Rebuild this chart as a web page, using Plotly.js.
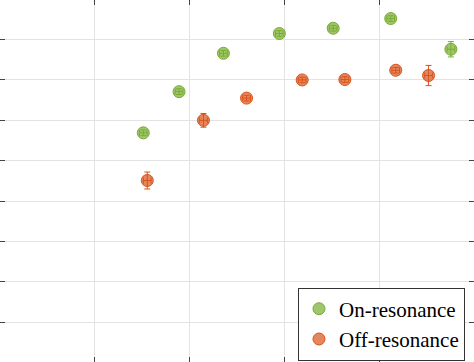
<!DOCTYPE html>
<html>
<head>
<meta charset="utf-8">
<script src="https://cdn.plot.ly/plotly-3.0.1.min.js"></script>
<style>html,body{margin:0;padding:0;background:#fff;}#chart{width:474px;height:362px;}</style>
</head>
<body>
<div id="chart"></div>
<script>
// On-resonance series
const onX = [1.512, 1.888, 2.355, 2.943, 3.509, 4.114, 4.747];
const onY = [5.69, 6.71, 7.66, 8.15, 8.28, 8.52, 7.76];
const onYErr = [0.07, 0.07, 0.07, 0.07, 0.07, 0.07, 0.19];
const onXErr = [0.04, 0.04, 0.04, 0.04, 0.04, 0.04, 0.04];
// Off-resonance series
const offX = [1.554, 2.145, 2.598, 3.183, 3.632, 4.167, 4.512];
const offY = [4.51, 6.00, 6.55, 7.00, 7.01, 7.24, 7.11];
const offYErr = [0.21, 0.17, 0.07, 0.07, 0.07, 0.07, 0.25];
const offXErr = [0.04, 0.04, 0.04, 0.04, 0.04, 0.04, 0.04];

const green = '#77AC30', orange = '#D95319';

function series(name, x, y, ex, ey, col, fill) {
  return {
    type: 'scatter', mode: 'markers', name: name, x: x, y: y,
    marker: {size: 12, color: fill, line: {color: col, width: 1}},
    error_y: {type: 'data', array: ey, visible: true, color: col, thickness: 1, width: 3},
    error_x: {type: 'data', array: ex, visible: true, color: col, thickness: 1, width: 3}
  };
}

const data = [
  series('On-resonance', onX, onY, onXErr, onYErr, green, 'rgba(119,172,48,0.7)'),
  series('Off-resonance', offX, offY, offXErr, offYErr, orange, 'rgba(217,83,25,0.7)')
];

const axisCommon = {
  showgrid: true, gridcolor: '#e3e3e3', gridwidth: 1,
  zeroline: false, showline: false, showticklabels: false,
  ticks: 'inside', ticklen: 5, tickwidth: 1, tickcolor: '#444', mirror: 'ticks', dtick: 1
};

const layout = {
  width: 474, height: 362,
  margin: {l: 0, r: 0, t: 0, b: 0, autoexpand: false},
  paper_bgcolor: '#fff', plot_bgcolor: '#fff',
  showlegend: true,
  xaxis: Object.assign({}, axisCommon, {range: [0.005, 4.99]}),
  yaxis: Object.assign({}, axisCommon, {range: [0.015, 8.98]}),
  legend: {
    x: 0.981, y: 0.004, xanchor: 'right', yanchor: 'bottom',
    bgcolor: '#fff', bordercolor: '#333', borderwidth: 1,
    font: {family: 'Liberation Serif', size: 21, color: '#000'}
  }
};

Plotly.newPlot('chart', data, layout, {staticPlot: true, displayModeBar: false});
</script>
</body>
</html>
